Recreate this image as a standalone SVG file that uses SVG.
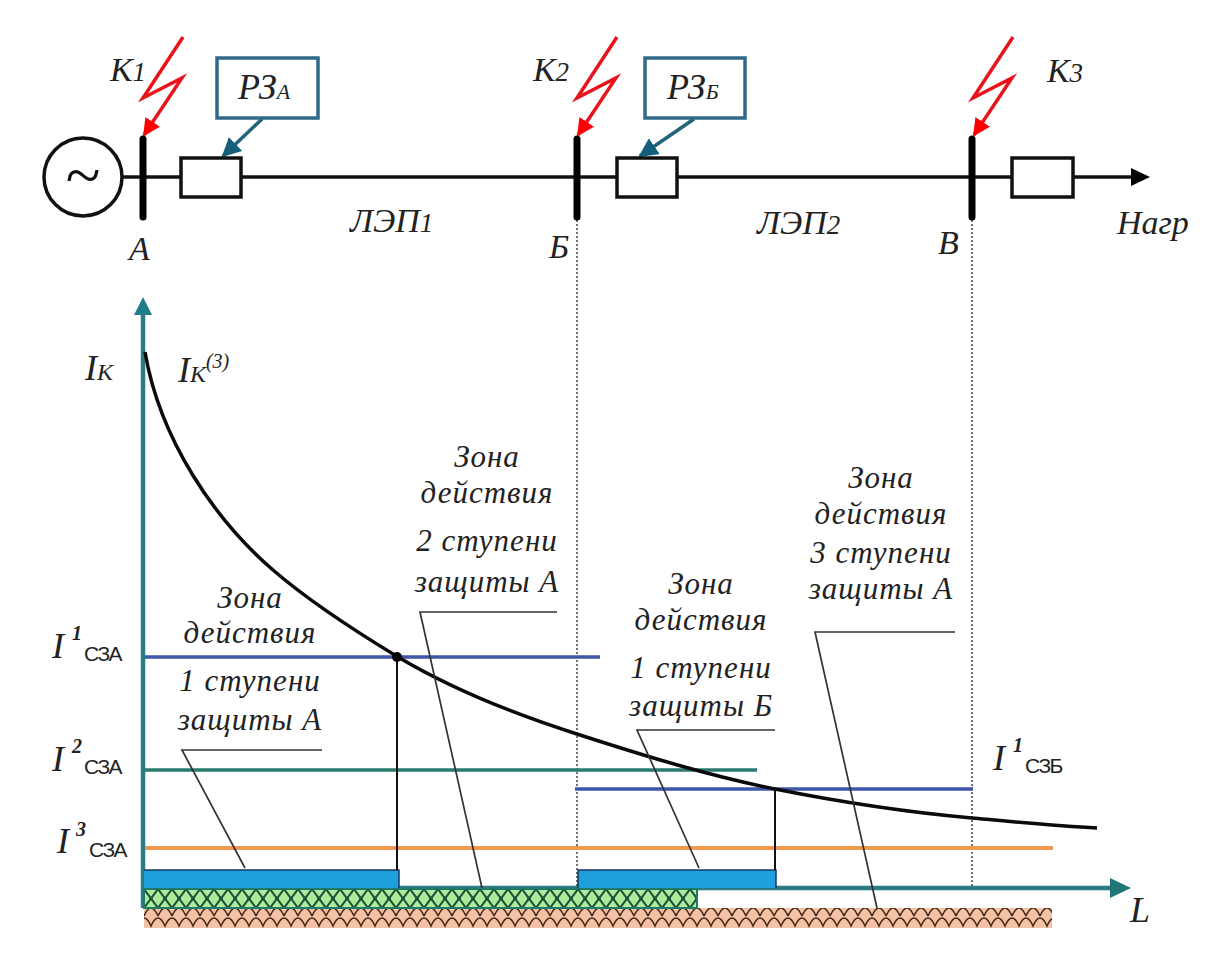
<svg xmlns="http://www.w3.org/2000/svg" width="1212" height="960" viewBox="0 0 1212 960">
<style>
text{font-family:"Liberation Serif","Times New Roman",serif;font-style:italic;fill:#222;font-size:34px}
.z{text-anchor:middle;font-size:31px;letter-spacing:1px}
.s{font-size:24px}
.d{font-size:27px}
.i{font-size:36px}
.sup{font-size:20px;font-weight:bold}
.c{font-size:21px;font-style:normal;font-family:"Liberation Sans",sans-serif;letter-spacing:-1.5px}
.l{fill:none;stroke:#111;stroke-width:3.5}
.b{fill:#fff;stroke:#111;stroke-width:3.5}
.bus{stroke:#000;stroke-width:7;stroke-linecap:round}
.bolt{fill:none;stroke:#e8141c;stroke-width:3.5;stroke-linejoin:miter;marker-end:url(#r)}
.rz{fill:#fff;stroke:#2f6b87;stroke-width:3.5}
.rza{stroke:#1f6478;stroke-width:3.5;marker-end:url(#t)}
.ax{stroke:#2b7c85;stroke-width:4.5;fill:none}
.dot{stroke:#444;stroke-width:1.5;stroke-dasharray:2 2}
.lead{fill:none;stroke:#333;stroke-width:1.7}
.v{stroke:#111;stroke-width:2;fill:none}
</style>
<defs>
<marker id="r" viewBox="0 0 10 10" refX="9" refY="5" markerWidth="5" markerHeight="5" orient="auto" markerUnits="strokeWidth"><path d="M0 0L10 5L0 10z" fill="#f00"/></marker>
<marker id="t" viewBox="0 0 10 10" refX="9" refY="5" markerWidth="5.500" markerHeight="5.500" orient="auto" markerUnits="strokeWidth"><path d="M0 0L10 5L0 10z" fill="#14607a"/></marker>
<pattern id="gh" width="14" height="19" patternUnits="userSpaceOnUse" x="144" y="889">
<rect width="14" height="19" fill="#aeea9c"/>
<path d="M0 0L14 19M14 0L0 19" stroke="#1a5236" stroke-width="2"/>
<circle cx="7" cy="9.500" r="1.800" fill="#1a5236"/>
</pattern>
<pattern id="oh" width="14" height="20" patternUnits="userSpaceOnUse" x="144" y="908">
<rect width="14" height="20" fill="#f2c3a4"/>
<path d="M0 8Q7 -8 14 8M-7 18Q0 2 7 18Q14 2 21 18" fill="none" stroke="#4a2a18" stroke-width="1.600"/>
</pattern>
</defs>

<g id="connectors">
<path class="l" d="M122 177H1136"/>
<path d="M1131 168L1150 177L1131 186z" fill="#000"/>
<line class="dot" x1="577" y1="220" x2="577" y2="888"/>
<line class="dot" x1="972" y1="220" x2="972" y2="888"/>
<line class="rza" x1="262" y1="119" x2="223" y2="156"/>
<line class="rza" x1="694" y1="119" x2="640" y2="156"/>
<path class="bolt" d="M183 37L143 98L182 78L144 135"/>
<path class="bolt" d="M617 37L577 98L616 78L578 135"/>
<path class="bolt" d="M1013 37L973 98L1012 78L974 135"/>
</g>

<g id="node-source"><circle cx="83" cy="177" r="39" fill="#fff" stroke="#111" stroke-width="3.500"/><text x="83" y="197" text-anchor="middle" style="font-size:64px;font-style:normal;fill:#111">~</text></g>
<g id="bus-a"><line class="bus" x1="143" y1="139" x2="143" y2="217"/><text x="129" y="260">А</text></g>
<g id="bus-b"><line class="bus" x1="577" y1="139" x2="577" y2="217"/><text x="549" y="258">Б</text></g>
<g id="bus-v"><line class="bus" x1="972" y1="139" x2="972" y2="217"/><text x="938" y="254">В</text></g>
<g id="breaker-a"><rect class="b" x="181" y="158" width="60" height="39"/></g>
<g id="breaker-b"><rect class="b" x="617" y="158" width="60" height="39"/></g>
<g id="breaker-v"><rect class="b" x="1012" y="158" width="61" height="39"/></g>
<g id="relay-a"><rect class="rz" x="217" y="58" width="101" height="60"/><text x="238" y="99" style="font-size:36px">РЗ<tspan style="font-size:22px">А</tspan></text></g>
<g id="relay-b"><rect class="rz" x="645" y="58" width="100" height="60"/><text x="667" y="99" style="font-size:36px">РЗ<tspan style="font-size:22px">Б</tspan></text></g>
<g id="labels-top">
<text x="110" y="81">К<tspan class="d">1</tspan></text>
<text x="533" y="81">К<tspan class="d">2</tspan></text>
<text x="1047" y="82">К<tspan class="d">3</tspan></text>
<text x="350" y="232">ЛЭП<tspan class="d">1</tspan></text>
<text x="757" y="234">ЛЭП<tspan class="d">2</tspan></text>
<text x="1117" y="234">Нагр</text>
</g>

<g id="axes">
<line class="ax" x1="143" y1="908" x2="143" y2="312"/>
<path d="M134 315L143 297L152 315z" fill="#1f7c88"/>
<line class="ax" x1="143" y1="888" x2="1116" y2="888"/>
<path d="M1110 878L1131 888L1110 898z" fill="#1f7676"/>
</g>

<g id="levels">
<line x1="145" y1="657" x2="600" y2="657" stroke="#3f56a8" stroke-width="3.500"/>
<line x1="145" y1="770" x2="757" y2="770" stroke="#2a7a70" stroke-width="3.500"/>
<line x1="145" y1="848" x2="1053" y2="848" stroke="#ee9a4a" stroke-width="4"/>
<line x1="575" y1="789" x2="973" y2="789" stroke="#3f56a8" stroke-width="3.500"/>
</g>

<g id="zones">
<rect x="144" y="908" width="908" height="20" fill="url(#oh)"/>
<rect x="144" y="889" width="553" height="19" fill="url(#gh)" stroke="#1d7a66" stroke-width="2"/>
<rect x="144" y="870" width="255" height="18" fill="#1f9fdc"/>
<rect x="578" y="870" width="198" height="18" fill="#1f9fdc"/>
<path d="M144 870H399V888M578 888V870H776V888" fill="none" stroke="#173a60" stroke-width="1.500"/>
</g>

<g id="curve">
<path d="M145 352C160 440 215 520 273 570C310 602 360 634 398 657C455 691 520 716 580 735C645 756 710 776 775 789C840 802 905 812 972 818C1015 822 1055 826 1097 828" fill="none" stroke="#0a0a0a" stroke-width="3.500"/>
<line class="v" x1="397" y1="657" x2="397" y2="870"/>
<line class="v" x1="775" y1="789" x2="775" y2="870"/>
<circle cx="397" cy="657" r="5" fill="#000"/>
</g>

<g id="leaders">
<path class="lead" d="M322 750H182L245 868"/>
<path class="lead" d="M557 612H420L482 888"/>
<path class="lead" d="M955 632H815L877 908"/>
<path class="lead" d="M775 730H637L699 868"/>
</g>

<g id="labels-zones">
<text class="z" x="250" y="608">Зона</text><text class="z" x="250" y="643">действия</text><text class="z" x="250" y="691">1 ступени</text><text class="z" x="250" y="730">защиты А</text>
<text class="z" x="487" y="467">Зона</text><text class="z" x="487" y="503">действия</text><text class="z" x="487" y="551">2 ступени</text><text class="z" x="487" y="592">защиты А</text>
<text class="z" x="881" y="488">Зона</text><text class="z" x="881" y="524">действия</text><text class="z" x="881" y="563">3 ступени</text><text class="z" x="881" y="599">защиты А</text>
<text class="z" x="701" y="594">Зона</text><text class="z" x="701" y="630">действия</text><text class="z" x="701" y="678">1 ступени</text><text class="z" x="701" y="716">защиты Б</text>
</g>

<g id="labels-axis">
<text x="85" y="380" class="i">I<tspan class="s">К</tspan></text>
<text x="178" y="382" class="i">I<tspan class="s">К</tspan><tspan style="font-size:20px" dy="-14">(3)</tspan></text>
<text x="52" y="658" class="i">I</text><text x="72" y="640" class="sup">1</text><text x="84" y="661" class="c">СЗА</text>
<text x="52" y="771" class="i">I</text><text x="72" y="753" class="sup">2</text><text x="84" y="774" class="c">СЗА</text>
<text x="57" y="853" class="i">I</text><text x="76" y="836" class="sup">3</text><text x="89" y="857" class="c">СЗА</text>
<text x="993" y="770" class="i">I</text><text x="1013" y="752" class="sup">1</text><text x="1025" y="773" class="c">СЗБ</text>
<text x="1130" y="922" class="i">L</text>
</g>
</svg>
